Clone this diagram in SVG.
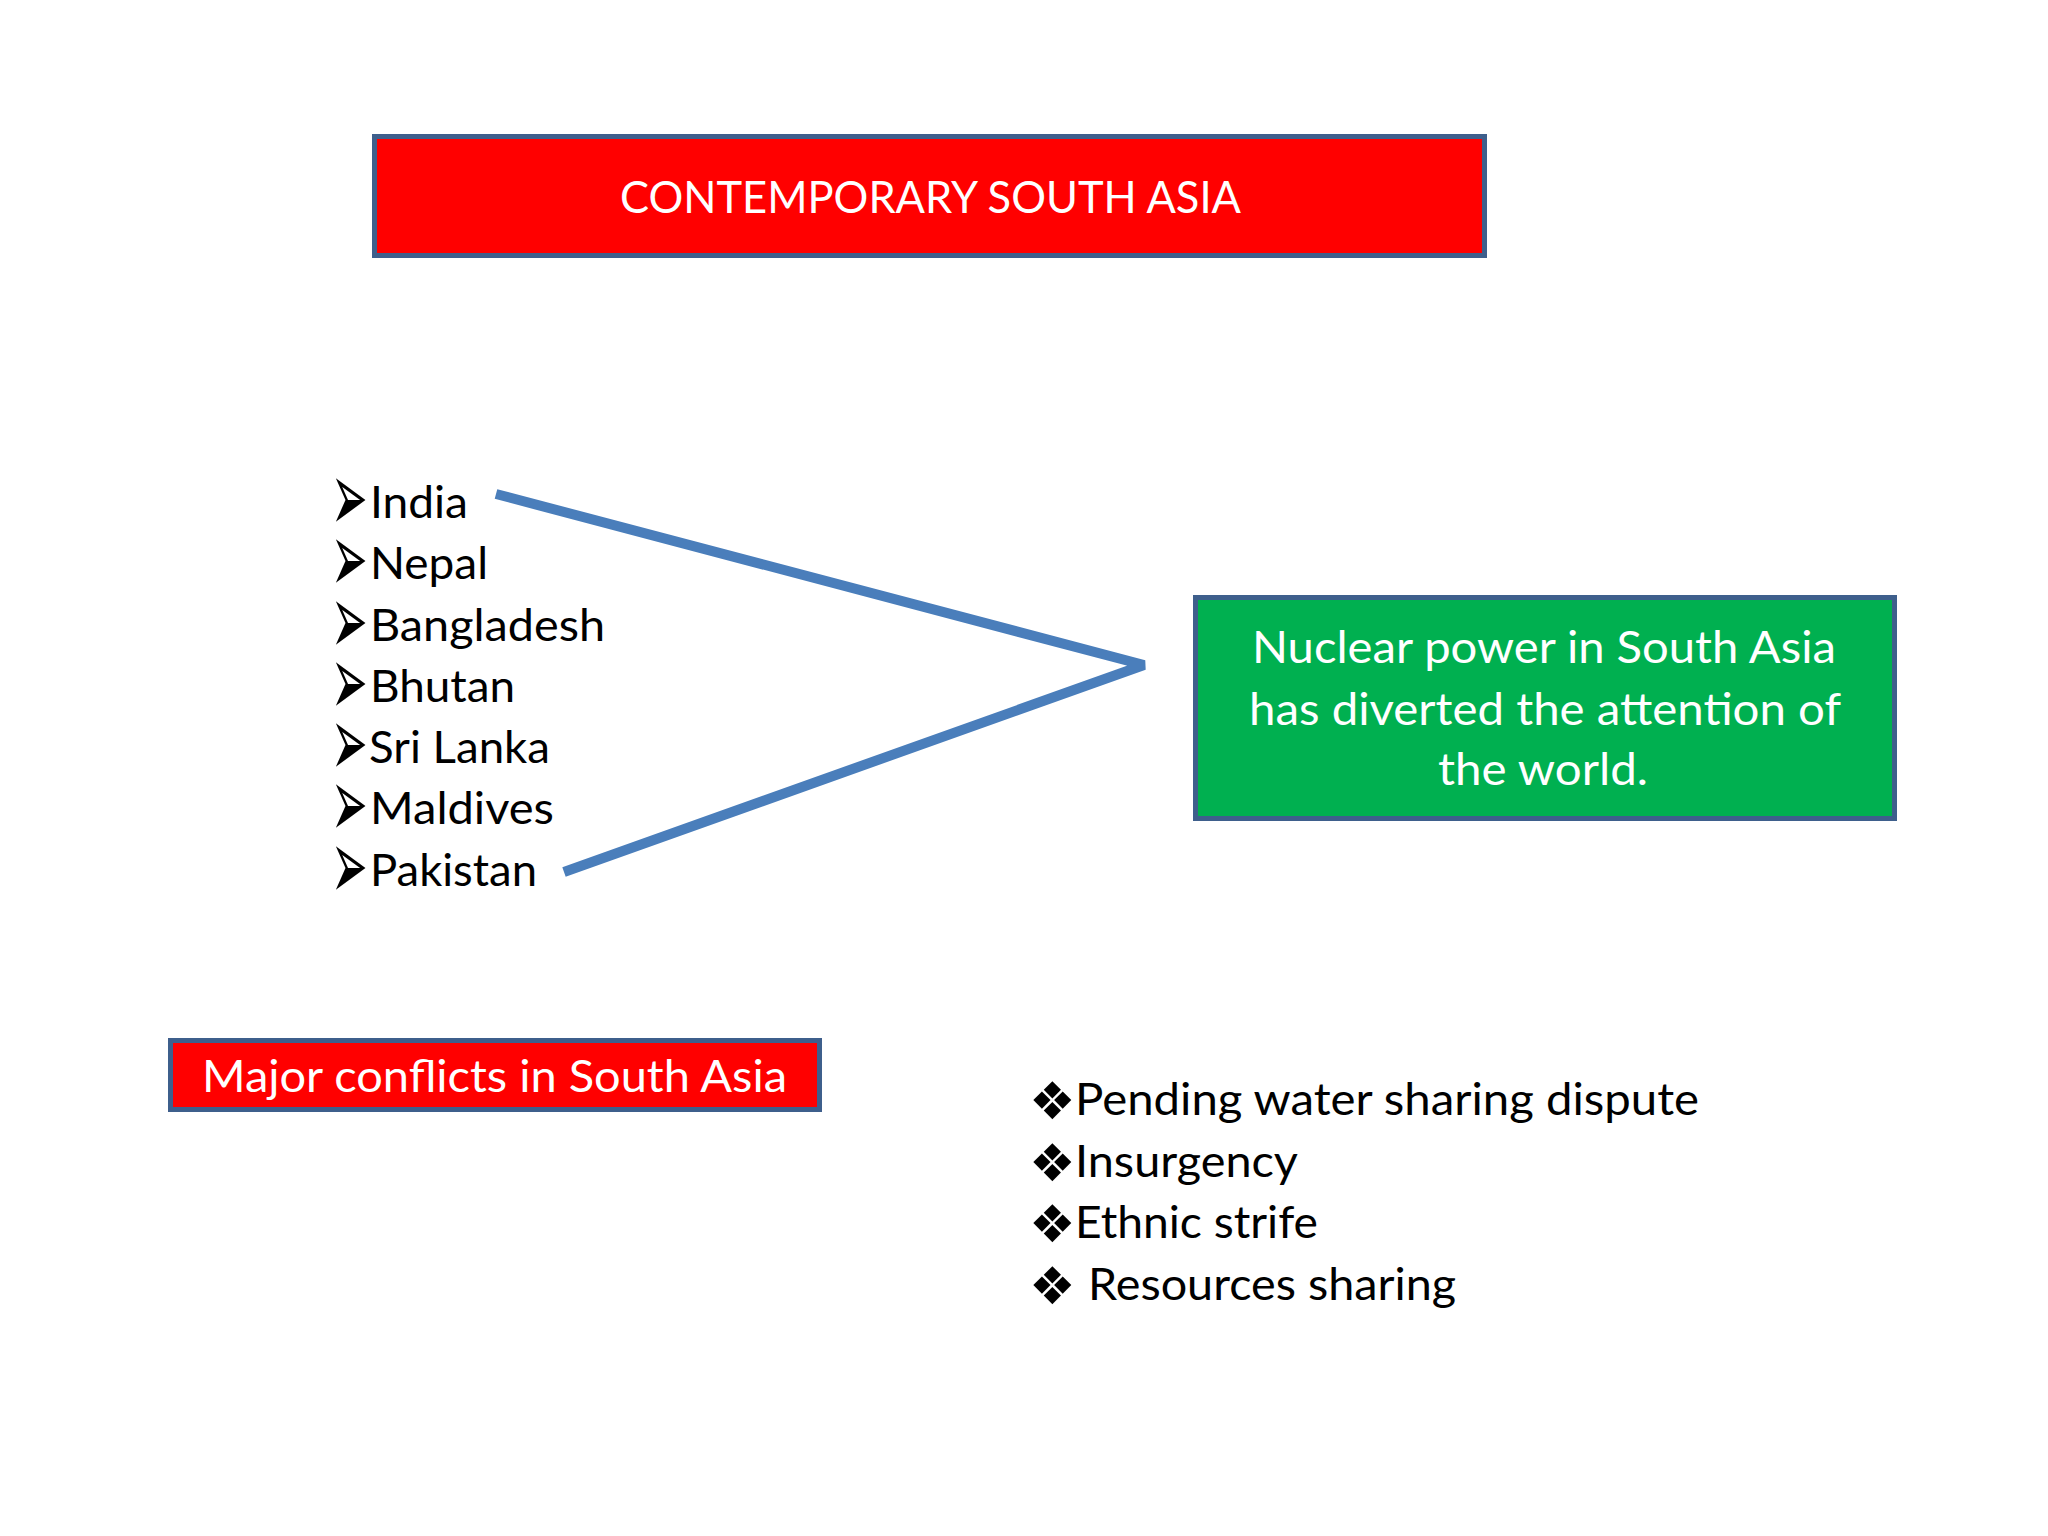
<svg xmlns="http://www.w3.org/2000/svg" width="2048" height="1536" viewBox="0 0 2048 1536">
<style>
.box{stroke:#3E5F8C;stroke-width:5}
.red{fill:#FF0000}
.green{fill:#00B050}
.w{fill:#FFFFFF;font-family:Lato,"Open Sans",sans-serif}
.k{fill:#000000;font-family:Lato,"Open Sans",sans-serif}
.bul{fill:#000000;font-family:"DejaVu Sans",sans-serif}
.conn{fill:none;stroke:#4A7EBB;stroke-width:10;stroke-linejoin:bevel;stroke-linecap:butt}
</style>
<rect width="2048" height="1536" fill="#FFFFFF"/>
<g id="title">
<rect class="box red" x="374.5" y="136.5" width="1110" height="119"/>
<text class="w" x="620" y="213" font-size="44" textLength="621" lengthAdjust="spacingAndGlyphs">CONTEMPORARY SOUTH ASIA</text>
</g>
<g id="countries">
<g class="bul" font-size="46">
<text transform="translate(331,518) scale(0.95,2.15)" x="0" y="6">➢</text>
<text transform="translate(331,579) scale(0.95,2.15)" x="0" y="6">➢</text>
<text transform="translate(331,641) scale(0.95,2.15)" x="0" y="6">➢</text>
<text transform="translate(331,702) scale(0.95,2.15)" x="0" y="6">➢</text>
<text transform="translate(331,763) scale(0.95,2.15)" x="0" y="6">➢</text>
<text transform="translate(331,824) scale(0.95,2.15)" x="0" y="6">➢</text>
<text transform="translate(331,886) scale(0.95,2.15)" x="0" y="6">➢</text>
</g>
<g class="k" font-size="44">
<text x="370" y="518" textLength="98" lengthAdjust="spacingAndGlyphs">India</text>
<text x="370" y="579" textLength="118" lengthAdjust="spacingAndGlyphs">Nepal</text>
<text x="370" y="641" textLength="235" lengthAdjust="spacingAndGlyphs">Bangladesh</text>
<text x="370" y="702" textLength="145" lengthAdjust="spacingAndGlyphs">Bhutan</text>
<text x="369" y="763" textLength="181" lengthAdjust="spacingAndGlyphs">Sri Lanka</text>
<text x="370" y="824" textLength="184" lengthAdjust="spacingAndGlyphs">Maldives</text>
<text x="370" y="886" textLength="167" lengthAdjust="spacingAndGlyphs">Pakistan</text>
</g>
</g>
<g id="nuclear">
<rect class="box green" x="1195.5" y="597.5" width="699" height="221"/>
<text class="w" x="1252" y="663" font-size="44" textLength="584" lengthAdjust="spacingAndGlyphs">Nuclear power in South Asia</text>
<text class="w" x="1249" y="725" font-size="44" textLength="592" lengthAdjust="spacingAndGlyphs">has diverted the attention of</text>
<text class="w" x="1438" y="785" font-size="44" textLength="210" lengthAdjust="spacingAndGlyphs">the world.</text>
</g>
<g id="conflicts">
<rect class="box red" x="170.5" y="1040.5" width="649" height="69"/>
<text class="w" x="202" y="1092" font-size="44" textLength="585" lengthAdjust="spacingAndGlyphs">Major conflicts in South Asia</text>
</g>
<g id="issues">
<g class="bul" font-size="52">
<text x="1029" y="1119">❖</text>
<text x="1029" y="1181">❖</text>
<text x="1029" y="1242">❖</text>
<text x="1029" y="1304">❖</text>
</g>
<g class="k" font-size="44">
<text x="1075" y="1115" textLength="624" lengthAdjust="spacingAndGlyphs">Pending water sharing dispute</text>
<text x="1075" y="1177" textLength="223" lengthAdjust="spacingAndGlyphs">Insurgency</text>
<text x="1075" y="1238" textLength="243" lengthAdjust="spacingAndGlyphs">Ethnic strife</text>
<text x="1088" y="1300" textLength="368" lengthAdjust="spacingAndGlyphs">Resources sharing</text>
</g>
</g>
<g id="connectors">
<polyline class="conn" points="496,494 1144,665 564,872"/>
</g>
</svg>
